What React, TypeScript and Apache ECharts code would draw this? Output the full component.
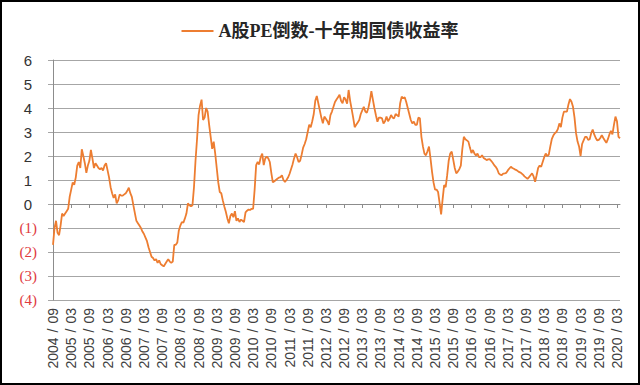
import React, { useEffect, useRef } from "react";
import * as echarts from "echarts";

const SERIES_NAME = "A股PE倒数-十年期国债收益率";

// semi-monthly readings, starting 2004/09
const values2004to2008 = [
  -1.7, -1.0, -0.7, -1.2, -1.3, -0.9, -0.4, -0.5, -0.4, -0.3,
  -0.2, 0.3, 0.6, 0.9, 0.8, 1.1, 1.6, 1.75, 1.5, 2.28,
  2.0, 1.7, 1.3, 1.6, 1.8, 2.25, 1.9, 1.5, 1.7, 1.6,
  1.5, 1.45, 1.5, 1.4, 1.6, 1.7, 1.4, 1.1, 0.7, 0.45,
  0.25, 0.4, 0.03, 0.15, 0.4, 0.35, 0.35, 0.4, 0.45, 0.55,
  0.68, 0.45, 0.3, -0.05, -0.38, -0.7, -0.8, -0.9, -1.0, -1.15,
  -1.25, -1.4, -1.55, -1.8, -2.0, -2.2, -2.25, -2.35, -2.3, -2.45,
  -2.35, -2.5, -2.55, -2.6, -2.5, -2.4, -2.3, -2.4, -2.45, -2.4,
  -1.7, -1.7, -1.6, -1.1, -0.9, -0.75, -0.78, -0.6, -0.4, 0.03,
  -0.05, -0.1, -0.05, 0.7, 1.8, 2.7, 3.7,
];
const values2008to2012 = [
  4.1, 4.35, 3.5, 3.6, 4.0, 3.85, 3.3, 2.8, 2.3, 2.6,
  2.1, 1.5, 0.9, 0.5, 0.45, 0.15, -0.1, -0.32, -0.6, -0.8,
  -0.5, -0.4, -0.55, -0.3, -0.7, -0.6, -0.75, -0.65, -0.7, -0.75,
  -0.35, -0.28, -0.23, -0.25, -0.2, -0.2, 0.6, 1.62, 1.75, 1.65,
  1.95, 2.1, 1.62, 1.9, 1.97, 1.9, 1.75, 1.3, 0.9, 0.95,
  1.0, 1.05, 1.1, 1.12, 1.2, 1.0, 0.92, 1.0, 1.1, 1.25,
  1.45, 1.65, 1.9, 2.1, 1.95, 1.75, 1.8, 2.05, 2.35, 2.5,
  2.7, 3.0, 3.3, 3.2, 3.45, 3.75, 4.3, 4.5, 4.2, 3.9,
  3.6, 3.36, 3.64, 3.55, 3.45, 3.3, 3.7, 3.85, 4.05, 4.25,
  4.35, 4.45, 4.55, 4.3, 4.2, 4.45,
];
const values2012to2016 = [
  4.35, 4.18, 4.75, 4.3, 3.95, 3.6, 3.2, 3.3, 3.4, 3.5,
  3.75, 3.9, 4.05, 3.85, 3.8, 4.0, 4.3, 4.7, 4.35, 4.0,
  3.7, 3.43, 3.6, 3.6, 3.57, 3.35, 3.45, 3.64, 3.45, 3.55,
  3.71, 3.6, 3.57, 3.75, 3.7, 3.64, 4.2, 4.47, 4.4, 4.45,
  4.25, 4.0, 3.75, 3.5, 3.36, 3.43, 3.3, 3.3, 3.6, 3.57,
  2.8, 2.4, 2.1, 2.03, 2.2, 2.39, 1.9, 1.35, 0.9, 0.6,
  0.6, 0.5, 0.05, -0.43, 0.2, 0.79, 0.7, 1.2, 1.8, 2.1,
  2.18, 1.85, 1.5, 1.28, 1.35, 1.45, 1.6, 2.3, 2.8, 2.7,
  2.65, 2.6, 2.35, 2.12, 2.25, 2.1, 2.03, 2.1, 1.95, 1.95,
  2.03, 1.92, 1.88, 1.83, 1.86, 1.87,
];
const values2016to2020 = [
  1.8, 1.72, 1.62, 1.55, 1.45, 1.28, 1.22, 1.2, 1.27, 1.28,
  1.3, 1.4, 1.48, 1.55, 1.5, 1.47, 1.43, 1.4, 1.35, 1.32,
  1.28, 1.22, 1.15, 1.1, 1.05, 1.12, 1.2, 1.28, 1.15, 0.93,
  1.2, 1.5, 1.6, 1.55, 1.75, 1.95, 2.1, 2.0, 2.05, 2.39,
  2.7, 2.85, 2.95, 3.0, 3.12, 3.36, 3.2, 3.6, 3.85, 3.85,
  3.85, 4.15, 4.37, 4.26, 4.05, 3.6, 2.95, 2.6, 2.4, 2.0,
  2.5, 2.65, 2.8, 2.8, 2.67, 2.7, 2.95, 3.1, 2.9, 2.75,
  2.65, 2.67, 2.75, 2.87, 2.75, 2.65, 2.55, 2.7, 2.9, 3.05,
  2.9, 3.3, 3.64, 3.45, 2.8, 2.74,
];

const tickLabels = [
  "2004/09", "2005/03", "2005/09", "2006/03", "2006/09", "2007/03", "2007/09", "2008/03",
  "2008/09", "2009/03", "2009/09", "2010/03", "2010/09", "2011/03", "2011/09", "2012/03",
  "2012/09", "2013/03", "2013/09", "2014/03", "2014/09", "2015/03", "2015/09", "2016/03",
  "2016/09", "2017/03", "2017/09", "2018/03", "2018/09", "2019/03", "2019/09", "2020/03",
];

const values = [...values2004to2008, ...values2008to2012, ...values2012to2016, ...values2016to2020];

// categories: two per month from 2004/09
const categories = values.map((_, h) => {
  const mo = 8 + Math.floor(h / 2);
  const y = 2004 + Math.floor(mo / 12);
  const m = (mo % 12) + 1;
  return `${y}/${String(m).padStart(2, "0")}/${h % 2 ? "16" : "01"}`;
});

const LABEL_STEP = 12;

export default function App() {
  const ref = useRef<HTMLDivElement>(null);
  useEffect(() => {
    document.body.style.margin = "0";
    if (!ref.current) return;
    const chart = echarts.init(ref.current, null, { renderer: "svg" });
    const gridColor = "#a6a6a6";
    chart.setOption({
      animation: false,
      backgroundColor: "#ffffff",
      graphic: [
        {
          type: "rect",
          silent: true,
          z: 100,
          shape: { x: 1, y: 1, width: 638, height: 383 },
          style: { fill: "none", stroke: "#000", lineWidth: 2 },
        },
      ],
      legend: {
        data: [SERIES_NAME],
        left: "center",
        top: 17,
        icon: "rect",
        itemWidth: 32,
        itemHeight: 2,
        itemGap: 10,
        textStyle: {
          fontSize: 18,
          fontWeight: "bold",
          fontFamily: "'Liberation Serif', 'Noto Sans CJK SC', serif",
          color: "#262626",
        },
      },
      grid: { left: 53, right: 20, top: 60, bottom: 85, containLabel: false },
      xAxis: [
        {
          type: "category",
          data: categories,
          boundaryGap: false,
          axisLine: { onZero: true, lineStyle: { color: "#8c8c8c", width: 1 } },
          axisTick: {
            show: true,
            interval: LABEL_STEP - 1,
            length: 4,
            lineStyle: { color: "#8c8c8c" },
          },
          axisLabel: { show: false },
          splitLine: { show: false },
        },
        {
          type: "category",
          data: categories,
          boundaryGap: false,
          position: "bottom",
          axisLine: { show: false, onZero: false },
          axisTick: { show: false },
          splitLine: { show: false },
          axisLabel: {
            interval: LABEL_STEP - 1,
            rotate: 90,
            margin: 8,
            color: "#404040",
            fontSize: 14,
            fontFamily: "'Liberation Sans', Arial, sans-serif",
            formatter: (_: string, index: number) => {
              const t = tickLabels[Math.round(index / LABEL_STEP)] || "";
              const [a, b] = t.split("/");
              return `{d|${a}}{s|/}{d|${b}}`;
            },
            rich: {
              d: { fontSize: 14, color: "#404040", fontFamily: "'Liberation Sans', Arial, sans-serif" },
              s: { fontSize: 14, color: "#404040", padding: [0, 5, 0, 5], fontFamily: "'Liberation Sans', Arial, sans-serif" },
            },
          },
        },
      ],
      yAxis: {
        type: "value",
        min: -4,
        max: 6,
        interval: 1,
        axisLine: { show: true, lineStyle: { color: "#8c8c8c" } },
        axisTick: { show: true, length: 5, lineStyle: { color: gridColor } },
        splitLine: { show: true, lineStyle: { color: gridColor, width: 1 } },
        axisLabel: {
          margin: 16,
          formatter: (v: number) => (v < 0 ? `{neg|(${-v})}` : `{pos|${v}}`),
          rich: {
            pos: {
              fontSize: 15,
              color: "#333333",
              fontFamily: "'Liberation Sans', Arial, sans-serif",
              padding: [0, 5, 0, 0],
            },
            neg: {
              fontSize: 15,
              color: "#e0393e",
              fontFamily: "'Liberation Serif', serif",
            },
          },
        },
      },
      series: [
        {
          name: SERIES_NAME,
          type: "line",
          xAxisIndex: 0,
          data: values,
          symbol: "none",
          showSymbol: false,
          lineStyle: { color: "#ED7D31", width: 1.8 },
          itemStyle: { color: "#ED7D31" },
        },
      ],
    });
    return () => chart.dispose();
  }, []);
  return <div ref={ref} style={{ width: 640, height: 385 }} />;
}
